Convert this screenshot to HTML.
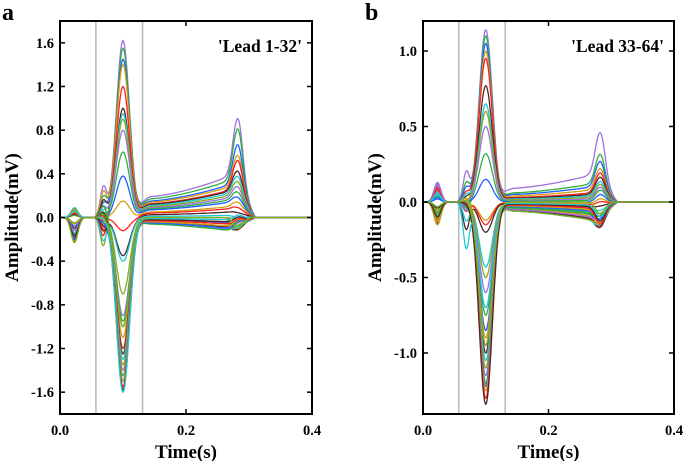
<!DOCTYPE html>
<html><head><meta charset="utf-8"><style>
body{margin:0;background:#fff;}
svg text{font-family:"Liberation Serif",serif;font-weight:bold;fill:#000;}
</style></head><body>
<svg id="chart" width="685" height="461" viewBox="0 0 685 461" xmlns="http://www.w3.org/2000/svg"></svg>
<script>
// Panel a: per-lead amplitudes (mV): R peak, P wave, early wiggle, ST level, T peak
const aR  = [1.62,1.55,1.45,1.4,1.2,1.0,0.95,0.9,0.8,0.6,0.38,0.15,-0.12,-0.35,-0.4,-0.7,-0.9,-0.95,-1.0,-1.1,-1.2,-1.25,-1.3,-1.35,-1.4,-1.45,-1.5,-1.5,-1.55,-1.58,-1.6,-1.0];
const aP  = [0.08,0.06,-0.2,0.05,-0.1,-0.15,0.09,-0.18,0.04,-0.05,-0.12,0.02,-0.22,-0.1,0.06,-0.2,0.07,-0.16,-0.08,0.05,-0.19,0.03,-0.14,0.08,-0.12,0.02,-0.2,-0.06,0.04,-0.17,0.06,-0.23];
const aQ  = [0.45,0.3,0.2,0.38,-0.3,0.25,0.1,-0.45,0.15,0.05,-0.05,0.0,-0.05,-0.2,-0.35,0.1,-0.1,0.2,-0.1,0.05,-0.15,0.1,-0.05,0.0,-0.1,0.08,-0.05,0.0,0.05,-0.1,0.02,-0.02];
const aST = [0.38,0.34,0.3,0.28,0.25,0.24,0.22,0.2,0.18,0.16,0.14,0.1,0.08,0.05,0.02,0.0,-0.02,-0.04,-0.05,-0.06,-0.08,-0.09,-0.1,-0.1,-0.11,-0.12,-0.1,-0.08,-0.06,-0.04,-0.02,0.0];
const aT  = [0.95,0.85,0.7,0.6,0.55,0.45,0.4,0.35,0.3,0.25,0.2,0.15,0.1,0.05,0.0,-0.02,-0.05,-0.08,-0.1,-0.1,-0.12,-0.12,-0.1,-0.08,-0.06,-0.05,-0.04,-0.03,-0.02,0.0,0.02,-0.1];
// Panel b
const bR  = [1.14,1.1,1.05,1.0,0.95,0.77,0.65,0.6,0.5,0.32,0.15,-0.12,-0.15,-0.2,-0.43,-0.5,-0.6,-0.75,-0.85,-0.9,-0.95,-1.0,-1.05,-1.1,-1.15,-1.2,-1.22,-1.25,-1.3,-1.34,-0.7,-0.95];
const bP  = [0.13,0.1,-0.15,0.08,-0.12,0.05,-0.1,0.12,-0.08,0.04,0.06,-0.05,0.1,-0.14,0.07,-0.06,0.11,-0.09,0.03,-0.13,0.09,-0.04,0.05,-0.11,0.12,-0.07,0.02,-0.15,0.08,-0.1,0.06,-0.03];
const bQ  = [0.32,0.2,0.15,-0.05,0.1,0.05,0.08,0.0,-0.05,-0.1,0.0,-0.05,-0.1,-0.3,-0.2,0.05,-0.08,0.0,-0.05,0.05,-0.02,0.0,-0.04,0.02,0.0,-0.03,0.01,-0.02,0.0,-0.01,-0.5,0.03];
const bST = [0.18,0.12,0.1,0.08,0.06,0.05,0.04,0.03,0.02,0.01,0.0,-0.01,-0.02,-0.03,-0.04,-0.05,-0.06,-0.07,-0.08,-0.09,-0.1,-0.11,-0.12,-0.12,-0.1,-0.08,-0.06,-0.05,-0.04,-0.03,-0.02,0.0];
const bT  = [0.48,0.33,0.28,0.23,0.2,0.17,0.14,0.12,0.1,0.08,0.05,0.02,0.0,-0.03,-0.06,-0.08,-0.1,-0.12,-0.14,-0.16,-0.17,-0.18,-0.16,-0.14,-0.12,-0.1,-0.12,-0.14,-0.15,-0.13,-0.1,-0.08];
const aTicksY = [1.6,1.2,0.8,0.4,0.0,-0.4,-0.8,-1.2,-1.6];
const bTicksY = [1.0,0.5,0.0,-0.5,-1.0];
const ticksX = [0.0,0.2,0.4];
const colors = ['#a070e0','#30b040','#2060ff','#d4a010','#ff2020','#502828','#20c8d8','#80b020'];

const svg = document.getElementById('chart');
const NS = 'http://www.w3.org/2000/svg';
function mk(tag, attrs, parent){const e=document.createElementNS(NS,tag);for(const k in attrs)e.setAttribute(k,attrs[k]);(parent||svg).appendChild(e);return e;}
function g(t,m,s){return Math.exp(-0.5*((t-m)/s)*((t-m)/s));}
function wave(t,R,P,Q,ST,T){
  let v = P*g(t,0.023,0.0055) + 0.6*Q*g(t,0.069,0.005) + R*g(t,0.1,0.0105);
  let st=0;
  if(t>0.12){
    const rise=Math.min(1,(t-0.12)/0.025);
    const lin=0.5+0.5*Math.pow(Math.min(1,Math.max(0,(t-0.14)/0.13)),1.5);
    const fall=t>0.275?Math.max(0,1-(t-0.275)/0.035):1;
    st=ST*Math.sin(rise*Math.PI/2)*lin*fall;
  }
  v += st + (T-ST*0.9)*g(t,0.283,0.0075);
  return v;
}
function panel(p){
  const {x0,x1,y0,y1,ymin,ymax,ticks,R,P,Q,ST,T,label,title,name} = p;
  const sx=t=>x0+(t-0)/0.4*(x1-x0);
  const sy=v=>y1-(v-ymin)/(ymax-ymin)*(y1-y0);
  const grp=mk('g',{});
  
  
  const clip=mk('clipPath',{id:name+'-clip'},grp);
  mk('rect',{x:x0,y:y0,width:x1-x0,height:y1-y0},clip);
  [0.057,0.131].forEach((t,i)=>{
    const l=mk('line',{x1:sx(t),x2:sx(t),y1:y0,y2:y1,stroke:'#b8b8b8','stroke-width':1.5},grp);
    
    
  });
  const lines=mk('g',{'clip-path':'url(#'+name+'-clip)'},grp);
  for(let i=0;i<R.length;i++){
    let d='';
    for(let k=0;k<=400;k++){const t=k*0.001;d+=(k?'L':'M')+sx(t).toFixed(1)+','+sy(wave(t,R[i],P[i],Q[i],ST[i],T[i])).toFixed(1);}
    const pth=mk('path',{d:d,fill:'none',stroke:colors[i%colors.length],'stroke-width':1.3},lines);
    
    
  }
  const fr=mk('rect',{x:x0,y:y0,width:x1-x0,height:y1-y0,fill:'none',stroke:'#000','stroke-width':2},grp);
  
  
  ticks.forEach(v=>{
    const y=sy(v);
    mk('line',{x1:x0,x2:x0+5,y1:y,y2:y,stroke:'#000','stroke-width':1.5},grp);
    mk('line',{x1:x1,x2:x1-5,y1:y,y2:y,stroke:'#000','stroke-width':1.5},grp);
    const tx=mk('text',{x:x0-6,y:y+5,'text-anchor':'end','font-size':14.5},grp);
    tx.textContent=v.toFixed(1);
    
    
  });
  ticksX.forEach(v=>{
    const x=sx(v);
    mk('line',{x1:x,x2:x,y1:y1,y2:y1-5,stroke:'#000','stroke-width':1.5},grp);
    mk('line',{x1:x,x2:x,y1:y0,y2:y0+5,stroke:'#000','stroke-width':1.5},grp);
    const tx=mk('text',{x:x,y:y1+21,'text-anchor':'middle','font-size':14.5},grp);
    tx.textContent=v.toFixed(1);
    
    
  });
  const xt=mk('text',{x:(x0+x1)/2,y:458,'text-anchor':'middle','font-size':19},grp);
  xt.textContent='Time(s)';
  
  
  const yt=mk('text',{x:0,y:0,'text-anchor':'middle','font-size':19,transform:'translate('+(x0-42)+','+((y0+y1)/2)+') rotate(-90)'},grp);
  yt.textContent='Amplitude(mV)';
  
  
  const tt=mk('text',{x:x1-10,y:y0+31,'text-anchor':'end','font-size':17.5},grp);
  tt.textContent=title;
  
  
  const lb=mk('text',{x:x0-58,y:20,'font-size':24},grp);
  lb.textContent=label;
  
  
}
panel({x0:60,x1:312,y0:21,y1:414,ymin:-1.8,ymax:1.8,ticks:aTicksY,R:aR,P:aP,Q:aQ,ST:aST,T:aT,label:'a',title:"'Lead 1-32'",name:'panel-a'});
panel({x0:423,x1:674,y0:21,y1:414,ymin:-(414-202)/151,ymax:(202-21)/151,ticks:bTicksY,R:bR,P:bP,Q:bQ,ST:bST,T:bT,label:'b',title:"'Lead 33-64'",name:'panel-b'});
</script>
</body></html>
